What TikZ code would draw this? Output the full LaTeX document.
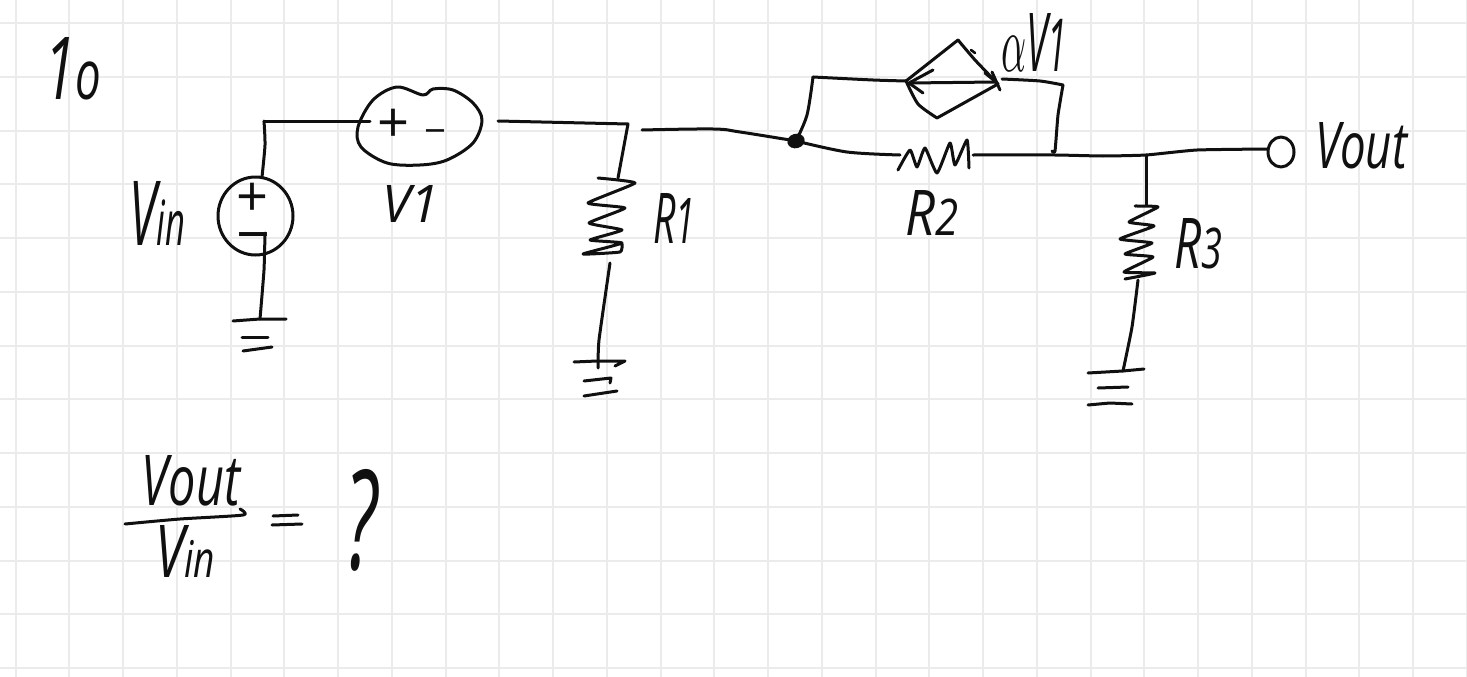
\documentclass[tikz,border=0pt]{standalone}
\usepackage{fontspec}
\usepackage{graphicx}
\setmainfont{Open Sans}
\usetikzlibrary{shapes.geometric}
\definecolor{gridc}{HTML}{EBEBEB}
\definecolor{ink}{HTML}{101010}
\tikzset{
  pen/.style={draw=ink,line width=3pt,line cap=round,line join=round},
  thinpen/.style={draw=ink,line width=2.6pt,line cap=round,line join=round},
  gridline/.style={draw=gridc,line width=2pt},
  handtext/.style={inner sep=0pt,text=ink,font=\itshape},
  signtext/.style={inner sep=0pt,text=ink,font=\normalfont},
}
\newcommand{\handlabel}[6]{\node[handtext] (#1) at (#2,#3) {\resizebox{#4pt}{#5pt}{#6}};}
\newcommand{\signlabel}[5]{\node[signtext] (#1) at (#2,#3) {\resizebox{#4pt}{!}{#5}};}
\begin{document}
\begin{tikzpicture}[x=1pt,y=-1pt]
\path[use as bounding box,fill=white] (0,0) rectangle (1467,677);
\foreach \i in {0,...,27} \draw[gridline] ({15.5+53.75*\i},0) -- ({15.5+53.75*\i},677);
\foreach \j in {0,...,12} \draw[gridline] (0,{23+53.75*\j}) -- (1467,{23+53.75*\j});

% junction points
\coordinate (srcTop) at (262,177);
\coordinate (cornerA) at (264,121);
\coordinate (v1In) at (370,121);
\coordinate (v1Out) at (498,121);
\coordinate (r1Top) at (628,124);
\coordinate (r1Start) at (618,178);
\coordinate (r1End) at (610,263);
\coordinate (gndB) at (597,361);
\coordinate (wireB) at (642,130);
\coordinate (topLeft) at (813,77);
\coordinate (diaL) at (906,81);
\coordinate (diaR) at (998,84);
\coordinate (topRight) at (1063,85);
\coordinate (tapR) at (1055,151);
\coordinate (r2In) at (900,155);
\coordinate (r2Out) at (973,155);
\coordinate (tapOut) at (1146,155);
\coordinate (r3Start) at (1146,205);
\coordinate (r3End) at (1138,280);
\coordinate (gndC) at (1123,371);
\coordinate (srcBot) at (265,233);
\coordinate (gndA) at (260,319);

% Vin source
\node[ellipse,pen,minimum width=75pt,minimum height=78pt,inner sep=0pt] (src) at (255.5,216) {};
\signlabel{srcplus}{253}{200}{32}{+}
\signlabel{srcminus}{254}{244}{34}{−}

% V1 blob
\draw[pen] plot[smooth cycle,tension=.55] coordinates {(423,95) (397,87) (373,100) (358,127) (361,147) (387,163) (420,165) (447,160) (473,143) (482,120) (473,103) (453,90) (433,89)};
\signlabel{vplus}{394}{126}{32}{+}
\signlabel{vminus}{435}{137}{22}{−}

% left wires
\draw[pen] plot[smooth,tension=.4] coordinates {(srcTop) (265,145) (cornerA)};
\draw[pen] (cornerA) -- (320,121) -- (v1In);
\draw[pen] plot[smooth,tension=.3] coordinates {(srcBot) (264,270) (gndA)};
\draw[pen] (233,321) -- (gndA) -- (286,319);
\draw[pen] (242,337) -- (268,337);
\draw[pen] (243,351) -- (272,347);

% R1 branch
\draw[pen] (v1Out) -- (r1Top) -- (r1Start);
\draw[pen] plot[smooth,tension=.25] coordinates {(598,178) (635,183) (588,203) (625,208) (589,223) (622,230) (590,240) (622,243) (583,254) (620,252) (622,244)};
\draw[pen] plot[smooth,tension=.3] coordinates {(r1End) (599,340) (598,368)};
\draw[pen] (574,362) -- (gndB) -- (625,361) -- (615,366);
\draw[pen] (584,381) -- (611,378) -- (610,383);
\draw[pen] (584,396) -- (617,391);

% junction
\node[ellipse,fill=ink,draw=ink,minimum width=17pt,minimum height=14pt,inner sep=0pt,rotate=15] (junc) at (796,141) {};
\draw[pen] plot[smooth,tension=.6] coordinates {(wireB) (713,129) (740,132) (junc)};
\draw[pen] plot[smooth,tension=.5] coordinates {(junc) (807,115) (topLeft)};
\draw[pen] plot[smooth,tension=.4] coordinates {(topLeft) (873,80) (diaL)};
\draw[pen] plot[smooth,tension=.5] coordinates {(junc) (847,152) (r2In)};

% dependent source diamond
\draw[pen] (diaL) -- (958,40);
\draw[pen] plot[smooth,tension=.3] coordinates {(958,40) (975,60) (diaR)};
\draw[pen] (diaR) -- (937,118);
\draw[pen] plot[smooth,tension=.4] coordinates {(937,118) (918,104) (diaL)};
\draw[pen] (909,83) -- (996,82);
\draw[pen] (933,70) -- (909,83) -- (923,93);
\draw[pen] (985,73) -- (996,82);
\draw[pen] (992,72) -- (1000,90);
\draw[thinpen] (971,50) -- (975,53);
\draw[pen] plot[smooth,tension=.4] coordinates {(1002,79) (1040,81) (topRight)};
\draw[pen] plot[smooth,tension=.3] coordinates {(topRight) (1058,115) (tapR) (1052,151)};

% R2
\draw[pen] plot[smooth,tension=.3] coordinates {(898,170) (910,150) (917,167) (925,148) (937,173) (950,143) (955,165) (967,140) (969,168)};
\draw[pen] plot[smooth,tension=.3] coordinates {(r2Out) (1055,155) (1103,156) (tapOut) (1197,150) (1268,149)};

% Vout terminal
\node[ellipse,pen,minimum width=26pt,minimum height=30pt,inner sep=0pt] (vterm) at (1281,152) {};

% R3 branch
\draw[pen] (tapOut) -- (r3Start);
\draw[pen] plot[smooth,tension=.25] coordinates {(1135,206) (1158,207) (1129,222) (1154,226) (1120,239) (1152,243) (1125,254) (1153,257) (1124,272) (1155,273) (1125,279)};
\draw[pen] plot[smooth,tension=.3] coordinates {(r3End) (1132,327) (gndC)};
\draw[pen] (1088,373) -- (gndC) -- (1144,369);
\draw[pen] (1098,388) -- (1128,387);
\draw[pen] (1088,405) -- (1110,403) -- (1132,404);

% fraction and equals
\draw[pen] plot[smooth,tension=.4] coordinates {(125,524) (180,519) (243,515) (240,509)};
\draw[pen] (273,516) -- (298,515);
\draw[pen] (272,525) -- (302,524);

% labels
\handlabel{qnum}{73}{69}{57}{62}{1{\footnotesize o}}
\handlabel{vinL}{157}{213}{56}{64}{{\Large V}in}
\handlabel{vone}{411}{204}{57}{37}{V1}
\handlabel{rone}{674}{218}{42}{50}{R{\small 1}}
\handlabel{rtwo}{932}{213}{53}{45}{R{\footnotesize 2}}
\handlabel{rthree}{1198}{244}{48}{50}{R{\footnotesize 3}}
\handlabel{alpha}{1034}{42}{66}{58}{$\alpha$V{\small 1}}
\handlabel{voutL}{1361}{146}{92}{46}{Vout}
\handlabel{voutF}{191}{481}{98}{50}{Vout}
\handlabel{vinF}{185}{551}{60}{52}{{\Large V}in}
\handlabel{quest}{362}{520}{32}{100}{?}
\end{tikzpicture}
\end{document}
